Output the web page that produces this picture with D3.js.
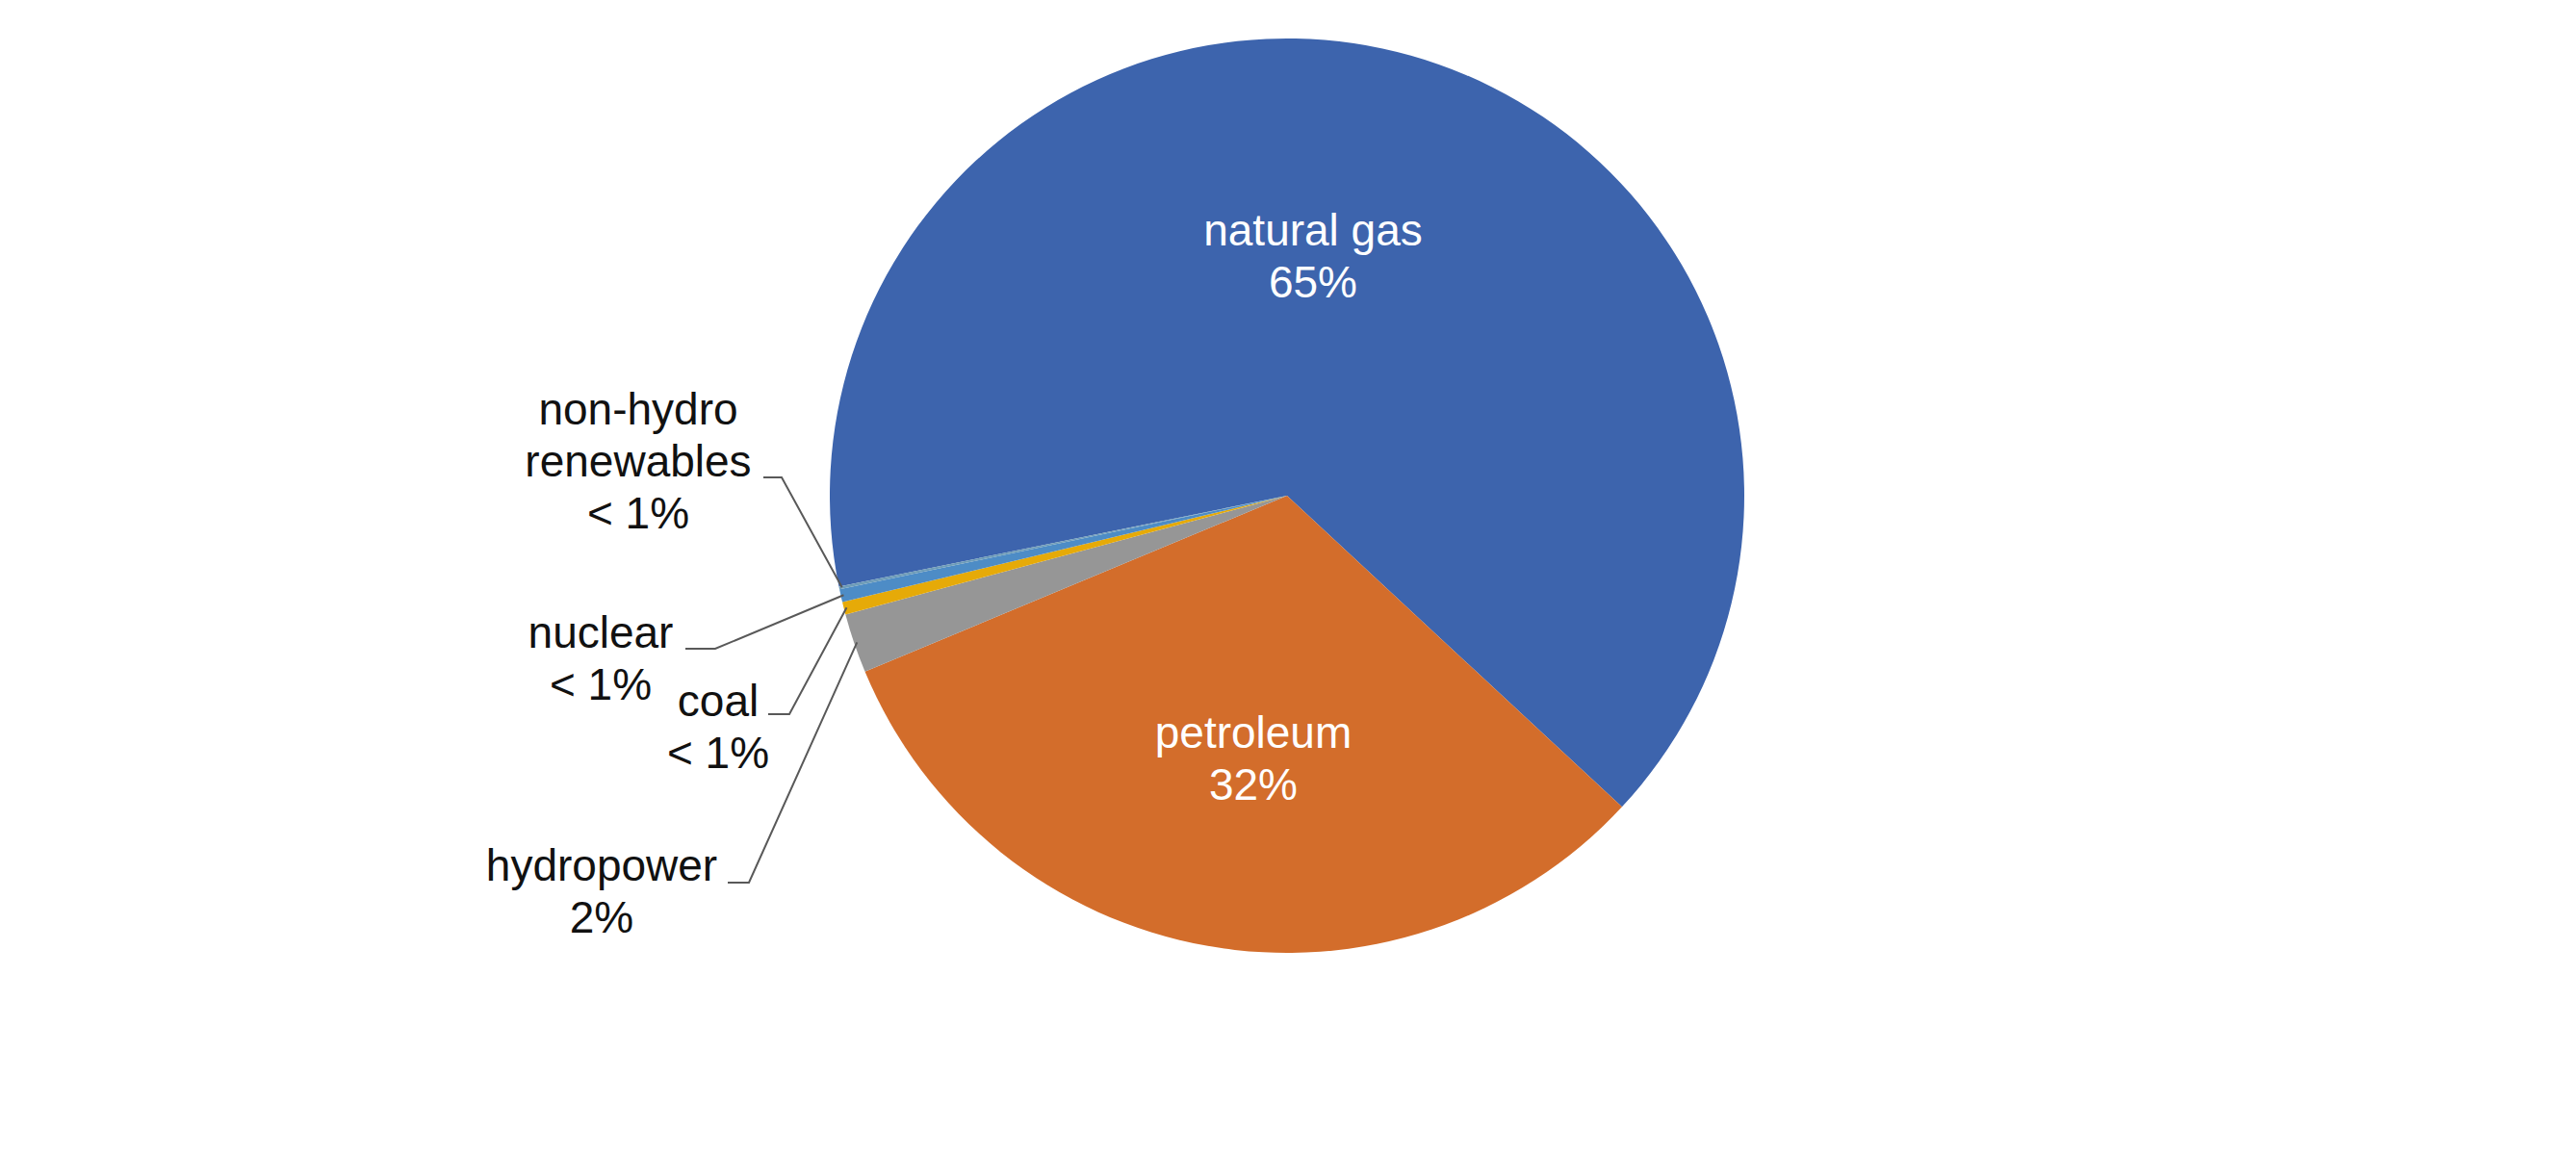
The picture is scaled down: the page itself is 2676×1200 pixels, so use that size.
<!DOCTYPE html>
<html>
<head>
<meta charset="utf-8">
<script src="https://cdn.jsdelivr.net/npm/d3@7"></script>
<style>
  html, body { margin: 0; padding: 0; background: #ffffff; }
  svg { display: block; }
  text { font-family: "Liberation Sans", Arial, sans-serif; }
</style>
</head>
<body>
<svg id="chart" width="2676" height="1200"></svg>
<script>
// ---- data ----
const categories = ["natural gas", "petroleum", "hydropower", "coal", "nuclear", "non-hydro renewables"];
const shares = [65.1, 31.8, 2.1, 0.45, 0.45, 0.1];
const labelLines = [
  ["natural gas", "65%"],
  ["petroleum", "32%"],
  ["hydropower", "2%"],
  ["coal", "< 1%"],
  ["nuclear", "< 1%"],
  ["non-hydro", "renewables", "< 1%"]
];
const colors = ["#3d64ad", "#d36d2b", "#969696", "#e6aa08", "#4d8cc6", "#6e9cb8"];

// ---- layout ----
const W = 2676, H = 1200;
const cx = 1337, cy = 515, R = 475;
const startDeg = 258.54;
const fontSize = 46, lineH = 54;

// label placements (layout only): text center x, first baseline y, leader horizontal segment
const labelLayout = [
  { x: 1364, y: 255, color: "#ffffff" },
  { x: 1302, y: 777, color: "#ffffff" },
  { x: 625, y: 915, color: "#111111", lx1: 756, lx2: 778, ly: 917 },
  { x: 746, y: 744, color: "#111111", lx1: 798, lx2: 820, ly: 742 },
  { x: 624, y: 673, color: "#111111", lx1: 712, lx2: 743, ly: 674 },
  { x: 663, y: 441, color: "#111111", lx1: 793, lx2: 812, ly: 496 }
];

const svg = d3.select("#chart");
const g = svg.append("g").attr("transform", `translate(${cx},${cy})`);

const data = categories.map((c, i) => ({ name: c, value: shares[i], idx: i }));
const startA = startDeg * Math.PI / 180;
const pie = d3.pie().value(d => d.value).sort(null)
  .startAngle(startA).endAngle(startA + 2 * Math.PI);
const arcs = pie(data);
const arc = d3.arc().innerRadius(0).outerRadius(R);

g.selectAll("path.slice")
  .data(arcs)
  .join("path")
  .attr("class", "slice")
  .attr("d", arc)
  .attr("fill", d => colors[d.data.idx]);

// leader lines for small slices
const leaderArc = d3.arc().innerRadius(R - 2).outerRadius(R - 2);
arcs.forEach(a => {
  const L = labelLayout[a.data.idx];
  if (L.lx1 === undefined) return;
  const mid = (a.startAngle + a.endAngle) / 2;
  const px = cx + (R - 3) * Math.sin(mid);
  const py = cy - (R - 3) * Math.cos(mid);
  svg.append("polyline")
    .attr("points", `${L.lx1},${L.ly} ${L.lx2},${L.ly} ${px},${py}`)
    .attr("fill", "none")
    .attr("stroke", "#595959")
    .attr("stroke-width", 2);
});

// labels
labelLines.forEach((lines, i) => {
  const L = labelLayout[i];
  const t = svg.append("text")
    .attr("text-anchor", "middle")
    .attr("font-size", fontSize)
    .attr("fill", L.color);
  lines.forEach((s, k) => {
    t.append("tspan").attr("x", L.x).attr("y", L.y + k * lineH).text(s);
  });
});
</script>
</body>
</html>
